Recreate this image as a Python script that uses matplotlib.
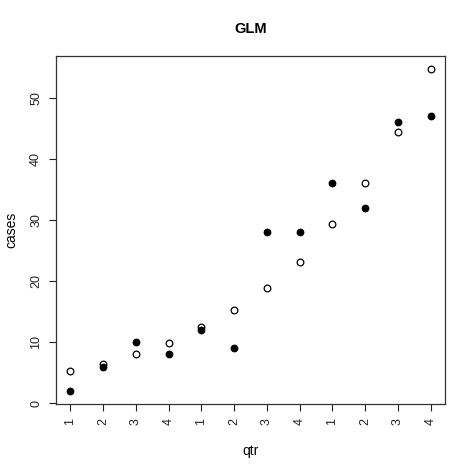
import matplotlib.pyplot as plt
import numpy as np

plt.rcParams['font.family'] = ['Liberation Sans', 'DejaVu Sans']

# Data
qtr_labels = ['1', '2', '3', '4', '1', '2', '3', '4', '1', '2', '3', '4']
cases = [2, 6, 10, 8, 12, 9, 28, 28, 36, 32, 46, 47]
fitted = [5.23, 6.48, 8.0, 9.8, 12.48, 15.3, 18.86, 23.17, 29.28, 36.04, 44.43, 54.74]
y_ticks = [0, 10, 20, 30, 40, 50]

x = np.arange(1, len(cases) + 1)

fig = plt.figure(figsize=(4.74, 4.74), dpi=100)
ax = fig.add_axes([56 / 474, 1 - 404 / 474, (445 - 56) / 474, (404 - 55.7) / 474])

ax.plot(x, fitted, 'o', mfc='white', mec='black', ms=4.8, mew=0.9)
ax.plot(x, cases, 'o', color='black', ms=4.6)

# R-style 4% range extension
allv = cases + fitted
lo, hi = min(allv), max(allv)
pad = 0.04 * (hi - lo)
ax.set_ylim(lo - pad, hi + pad)
ax.set_xlim(1 - 0.04 * 11, 12 + 0.04 * 11)

ax.set_xticks(x)
ax.set_xticklabels(qtr_labels, rotation=90)
ax.set_yticks(y_ticks)
ax.set_yticklabels([str(v) for v in y_ticks], rotation=90, va='center')
ax.tick_params(direction='out', length=5, width=0.8, labelsize=9, pad=5, colors='#222222')

for s in ax.spines.values():
    s.set_linewidth(0.9)
    s.set_color('#333333')

ax.set_xlabel('qtr', fontsize=10, labelpad=14)
ax.set_ylabel('cases', fontsize=10, va='center')
ax.yaxis.set_label_coords(-0.115, 0.5)
ax.set_title('GLM', fontsize=10.5, fontweight='bold', pad=16)

fig.savefig('out.png', dpi=100)
